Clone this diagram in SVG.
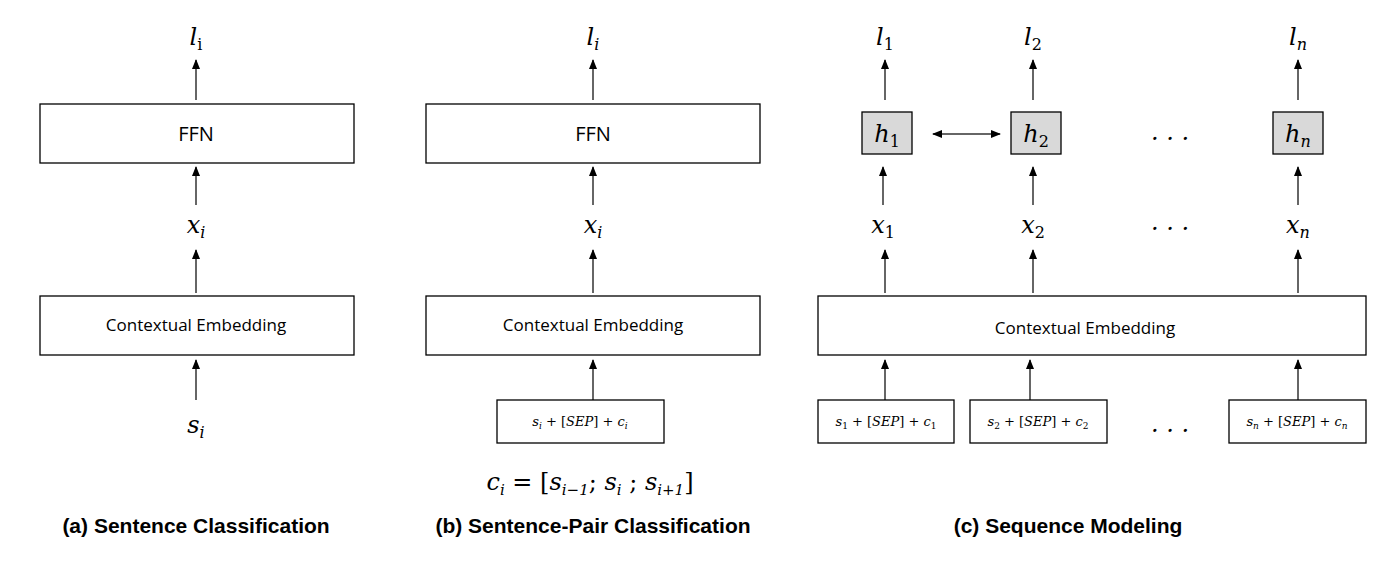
<svg xmlns="http://www.w3.org/2000/svg" width="1384" height="565" viewBox="0 0 1384 565">
<defs><marker id="ah" markerWidth="10" markerHeight="10" refX="9" refY="5" orient="auto-start-reverse" markerUnits="userSpaceOnUse"><path d="M0,1 L10,5 L0,9 Z" fill="#000"/></marker></defs>
<style>
.box{fill:#fff;stroke:#000;stroke-width:1.3}
.hb{fill:#d9d9d9;stroke:#000;stroke-width:1.3}
.ln{stroke:#333;stroke-width:1.5;fill:none;marker-end:url(#ah)}
.m{font-family:"DejaVu Serif",serif;font-style:italic;font-size:24px;text-anchor:middle}
.ms{font-family:"DejaVu Serif",serif;font-style:italic;font-size:13px}
.t{font-family:"Open Sans","Liberation Sans",sans-serif;text-anchor:middle}
.ti{font-family:"Liberation Sans",sans-serif;font-weight:bold;font-size:21px;text-anchor:middle}
sub,.sb{font-style:normal}
</style>
<g id="connectors">
<line class="ln" x1="196" y1="100" x2="196" y2="60"/>
<line class="ln" x1="196" y1="205" x2="196" y2="167"/>
<line class="ln" x1="196" y1="293" x2="196" y2="250"/>
<line class="ln" x1="196" y1="400" x2="196" y2="360"/>
<line class="ln" x1="593" y1="100" x2="593" y2="60"/>
<line class="ln" x1="593" y1="205" x2="593" y2="167"/>
<line class="ln" x1="593" y1="293" x2="593" y2="250"/>
<line class="ln" x1="593" y1="400" x2="593" y2="360"/>
<line class="ln" x1="885" y1="100" x2="885" y2="60"/>
<line class="ln" x1="1033" y1="100" x2="1033" y2="60"/>
<line class="ln" x1="1298" y1="100" x2="1298" y2="60"/>
<line class="ln" x1="883" y1="205" x2="883" y2="167"/>
<line class="ln" x1="1033" y1="205" x2="1033" y2="167"/>
<line class="ln" x1="1298" y1="205" x2="1298" y2="167"/>
<line class="ln" x1="885" y1="293" x2="885" y2="250"/>
<line class="ln" x1="1033" y1="293" x2="1033" y2="250"/>
<line class="ln" x1="1298" y1="293" x2="1298" y2="250"/>
<line class="ln" x1="885" y1="400" x2="885" y2="360"/>
<line class="ln" x1="1030" y1="400" x2="1030" y2="360"/>
<line class="ln" x1="1298" y1="400" x2="1298" y2="360"/>
<line class="ln" x1="933" y1="134" x2="1000" y2="134" style="marker-start:url(#ah)"/>
</g>
<g id="a">
<text class="m" x="196" y="45">l<tspan class="sb" font-size="16" dy="5">i</tspan></text>
<g id="a-ffn"><rect class="box" x="40" y="104" width="314" height="59"/><text class="t" x="196" y="141" font-size="20">FFN</text></g>
<text class="m" x="196" y="233">x<tspan font-size="16" dy="5">i</tspan></text>
<g id="a-ce"><rect class="box" x="40" y="296" width="314" height="59"/><text class="t" x="196" y="331" font-size="17">Contextual Embedding</text></g>
<text class="m" x="196" y="433">s<tspan font-size="16" dy="5">i</tspan></text>
<text class="ti" x="196" y="533">(a) Sentence Classification</text>
</g>
<g id="b">
<text class="m" x="593" y="45">l<tspan font-size="16" dy="5">i</tspan></text>
<g id="b-ffn"><rect class="box" x="426" y="104" width="334" height="59"/><text class="t" x="593" y="141" font-size="20">FFN</text></g>
<text class="m" x="593" y="233">x<tspan font-size="16" dy="5">i</tspan></text>
<g id="b-ce"><rect class="box" x="426" y="296" width="334" height="59"/><text class="t" x="593" y="331" font-size="17">Contextual Embedding</text></g>
<g id="b-in"><rect class="box" x="497" y="400" width="167" height="43"/><text class="ms" x="580" y="426" text-anchor="middle">s<tspan font-size="9" dy="3">i</tspan><tspan dy="-3" font-style="normal"> + [</tspan>SEP<tspan font-style="normal">] + </tspan>c<tspan font-size="9" dy="3">i</tspan></text></g>
<text class="m" x="590" y="490" font-size="22">c<tspan font-size="15" dy="5">i</tspan><tspan dy="-5" font-style="normal"> = [</tspan>s<tspan font-size="15" dy="5">i−1</tspan><tspan dy="-5" font-style="normal">; </tspan>s<tspan font-size="15" dy="5">i</tspan><tspan dy="-5" font-style="normal"> ; </tspan>s<tspan font-size="15" dy="5">i+1</tspan><tspan dy="-5" font-style="normal">]</tspan></text>
<text class="ti" x="593" y="533">(b) Sentence-Pair Classification</text>
</g>
<g id="c">
<text class="m" x="885" y="45">l<tspan font-size="16" dy="5" font-style="normal">1</tspan></text>
<text class="m" x="1033" y="45">l<tspan font-size="16" dy="5" font-style="normal">2</tspan></text>
<text class="m" x="1298" y="45">l<tspan font-size="16" dy="5">n</tspan></text>
<g id="h1"><rect class="hb" x="862" y="112" width="50" height="42"/><text class="m" x="887" y="142">h<tspan font-size="16" dy="5" font-style="normal">1</tspan></text></g>
<g id="h2"><rect class="hb" x="1011" y="112" width="50" height="42"/><text class="m" x="1036" y="142">h<tspan font-size="16" dy="5" font-style="normal">2</tspan></text></g>
<g id="hn"><rect class="hb" x="1273" y="112" width="50" height="42"/><text class="m" x="1298" y="142">h<tspan font-size="16" dy="5">n</tspan></text></g>
<text class="m" x="1170" y="140">. . .</text>
<text class="m" x="883" y="233">x<tspan font-size="16" dy="5" font-style="normal">1</tspan></text>
<text class="m" x="1033" y="233">x<tspan font-size="16" dy="5" font-style="normal">2</tspan></text>
<text class="m" x="1298" y="233">x<tspan font-size="16" dy="5">n</tspan></text>
<text class="m" x="1170" y="230">. . .</text>
<g id="c-ce"><rect class="box" x="818" y="296" width="548" height="59"/><text class="t" x="1085" y="334" font-size="17">Contextual Embedding</text></g>
<g id="in1"><rect class="box" x="818" y="400" width="136" height="43"/><text class="ms" x="886" y="426" text-anchor="middle">s<tspan font-size="9" dy="3" font-style="normal">1</tspan><tspan dy="-3" font-style="normal"> + [</tspan>SEP<tspan font-style="normal">] + </tspan>c<tspan font-size="9" dy="3" font-style="normal">1</tspan></text></g>
<g id="in2"><rect class="box" x="970" y="400" width="137" height="43"/><text class="ms" x="1038" y="426" text-anchor="middle">s<tspan font-size="9" dy="3" font-style="normal">2</tspan><tspan dy="-3" font-style="normal"> + [</tspan>SEP<tspan font-style="normal">] + </tspan>c<tspan font-size="9" dy="3" font-style="normal">2</tspan></text></g>
<text class="m" x="1170" y="432">. . .</text>
<g id="inn"><rect class="box" x="1229" y="400" width="137" height="43"/><text class="ms" x="1297" y="426" text-anchor="middle">s<tspan font-size="9" dy="3">n</tspan><tspan dy="-3" font-style="normal"> + [</tspan>SEP<tspan font-style="normal">] + </tspan>c<tspan font-size="9" dy="3">n</tspan></text></g>
<text class="ti" x="1068" y="533">(c) Sequence Modeling</text>
</g>
</svg>
